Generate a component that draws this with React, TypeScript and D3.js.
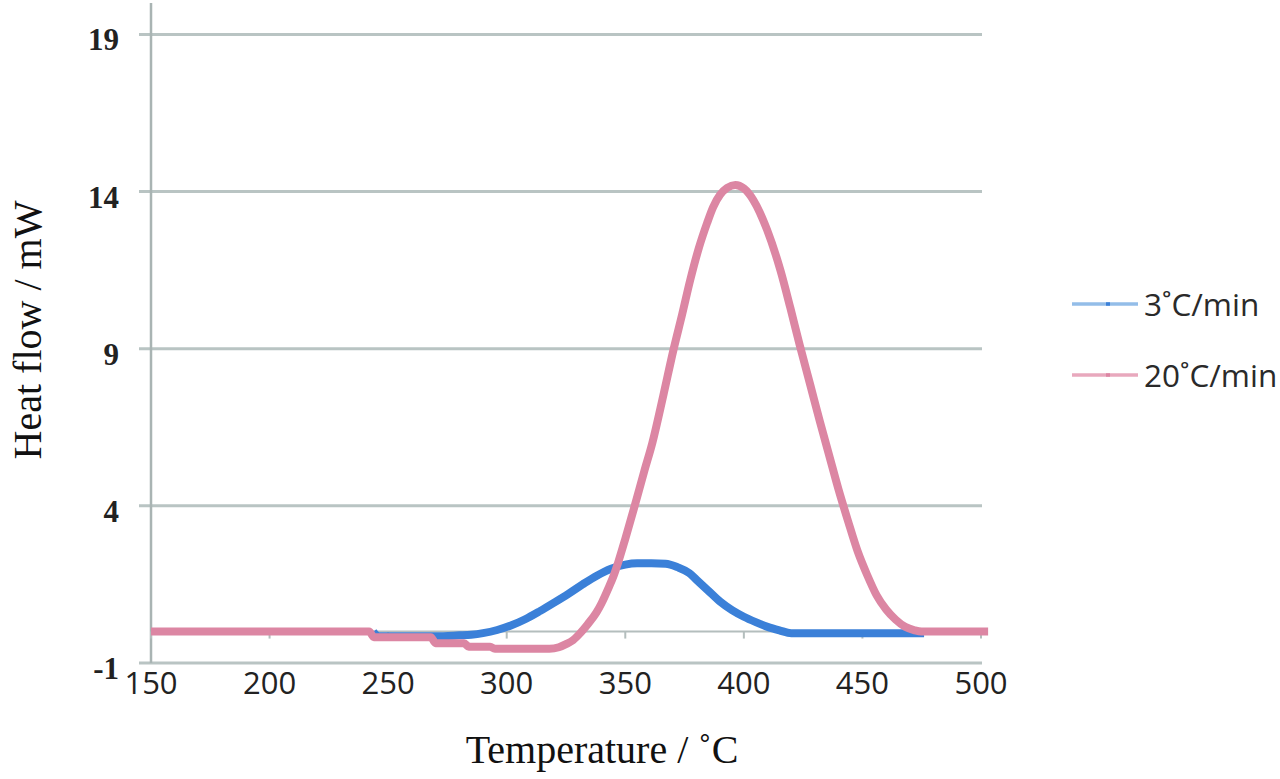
import React from "react";
import * as d3 from "d3";

const W = 1280;
const H = 779;

// X: temperature (°C), Y: heat flow (mW)
const xTicks = [150, 200, 250, 300, 350, 400, 450, 500];
const yTicks = [-1, 4, 9, 14, 19];

const slowTemp = [243.7, 246, 258, 270, 280, 285, 290, 296, 302, 308, 314, 320, 326, 332, 338, 344, 350, 355, 361, 367, 372, 377, 380, 385, 390, 395, 400, 405, 410, 415, 420, 430, 450, 476];
const slowFlow = [0, -0.15, -0.15, -0.15, -0.12, -0.1, -0.05, 0.05, 0.2, 0.4, 0.65, 0.92, 1.2, 1.5, 1.78, 2.0, 2.13, 2.17, 2.17, 2.16, 2.05, 1.86, 1.65, 1.3, 0.95, 0.68, 0.47, 0.3, 0.15, 0.04, -0.05, -0.05, -0.05, -0.05];

const fastTemp = [150, 200, 242, 244, 268, 270, 282, 284, 293, 295, 318, 322, 325, 328, 331, 334, 337.8, 340, 342.9, 345, 347, 350, 354.2, 358, 361.4, 366, 370.3, 374, 377.4, 381, 384.5, 387, 390, 393, 396.4, 400, 404, 409.8, 415.4, 419.6, 423.6, 428, 432, 436, 440, 444, 448, 452, 456, 460, 464, 468, 472, 475, 480, 503];
const fastFlow = [0, 0, 0, -0.18, -0.18, -0.37, -0.37, -0.48, -0.48, -0.55, -0.55, -0.5, -0.4, -0.27, -0.05, 0.22, 0.6, 0.9, 1.38, 1.76, 2.2, 2.95, 4.06, 5.1, 6.0, 7.5, 8.96, 10.1, 11.19, 12.2, 13.0, 13.5, 13.9, 14.12, 14.21, 14.1, 13.73, 12.78, 11.5, 10.3, 9.1, 7.85, 6.7, 5.6, 4.5, 3.5, 2.55, 1.8, 1.15, 0.7, 0.38, 0.15, 0.04, 0, 0, 0];

const seriesNames = ["3˚C/min", "20˚C/min"];
const seriesColors = ["#3b80d8", "#dc86a3"];
const legendColors = ["#93bde8", "#e8a8bd"];

export default function App() {
  const x = d3.scaleLinear().domain([150, 500]).range([151, 981]);
  const y = d3.scaleLinear().domain([-1, 20]).range([663, 3]);

  const line = d3
    .line<[number, number]>()
    .x((d) => x(d[0]))
    .y((d) => y(d[1]))
    .curve(d3.curveMonotoneX);

  const slow: [number, number][] = slowTemp.map((t, i) => [t, slowFlow[i]]);
  const fast: [number, number][] = fastTemp.map((t, i) => [t, fastFlow[i]]);

  const gridColor = "#b9c4c3";

  return (
    <svg
      width={W}
      height={H}
      style={{ position: "fixed", left: 0, top: 0, background: "#fff" }}
    >
      {/* gridlines */}
      {yTicks.map((t) => (
        <line
          key={"g" + t}
          x1={139}
          x2={982}
          y1={y(t)}
          y2={y(t)}
          stroke={gridColor}
          strokeWidth={3}
        />
      ))}
      {/* vertical axis */}
      <line x1={x(150)} x2={x(150)} y1={y(20)} y2={y(-1)} stroke="#a9b4b3" strokeWidth={2.5} />
      {/* horizontal axis at zero */}
      <line x1={x(150)} x2={x(500)} y1={y(0)} y2={y(0)} stroke="#b4bebd" strokeWidth={2} />
      {xTicks.map((t) => (
        <line
          key={"xt" + t}
          x1={x(t)}
          x2={x(t)}
          y1={y(0)}
          y2={y(0) + 7}
          stroke="#b4bebd"
          strokeWidth={2}
        />
      ))}

      {/* y tick labels */}
      {yTicks.map((t) => (
        <text
          key={"yl" + t}
          x={119}
          y={y(t) + 16}
          textAnchor="end"
          fontFamily="'Liberation Serif', 'DejaVu Serif', serif"
          fontSize={31}
          fontWeight="bold"
          fill="#222"
        >
          {t}
        </text>
      ))}
      {/* x tick labels */}
      {xTicks.map((t) => (
        <text
          key={"xl" + t}
          x={x(t)}
          y={694}
          textAnchor="middle"
          fontFamily="'Open Sans', 'Noto Sans', sans-serif"
          fontSize={31}
          fill="#222"
        >
          {t}
        </text>
      ))}

      {/* series */}
      <path d={line(slow) || ""} fill="none" stroke={seriesColors[0]} strokeWidth={8} strokeLinejoin="round" />
      <path d={line(fast) || ""} fill="none" stroke={seriesColors[1]} strokeWidth={8} strokeLinejoin="round" />

      {/* axis titles */}
      <text
        transform="translate(41,330) rotate(-90)"
        textAnchor="middle"
        fontFamily="'Liberation Serif', 'DejaVu Serif', serif"
        fontSize={40}
        fill="#111"
      >
        Heat flow / mW
      </text>
      <text
        x={602}
        y={763}
        textAnchor="middle"
        fontFamily="'Liberation Serif', 'DejaVu Serif', serif"
        fontSize={40}
        fill="#111"
      >
        Temperature / ˚C
      </text>

      {/* legend */}
      {seriesNames.map((n, i) => {
        const ly = 304 + i * 71;
        return (
          <g key={n}>
            <line x1={1072} x2={1138} y1={ly} y2={ly} stroke={legendColors[i]} strokeWidth={3.5} />
            <line x1={1106} x2={1110} y1={ly} y2={ly} stroke={seriesColors[i]} strokeWidth={3.5} />
            <text
              x={1144}
              y={ly + 12}
              fontFamily="'Open Sans', 'Noto Sans', sans-serif"
              fontSize={31.5}
              fill="#2a2a2a"
            >
              {n}
            </text>
          </g>
        );
      })}
    </svg>
  );
}
